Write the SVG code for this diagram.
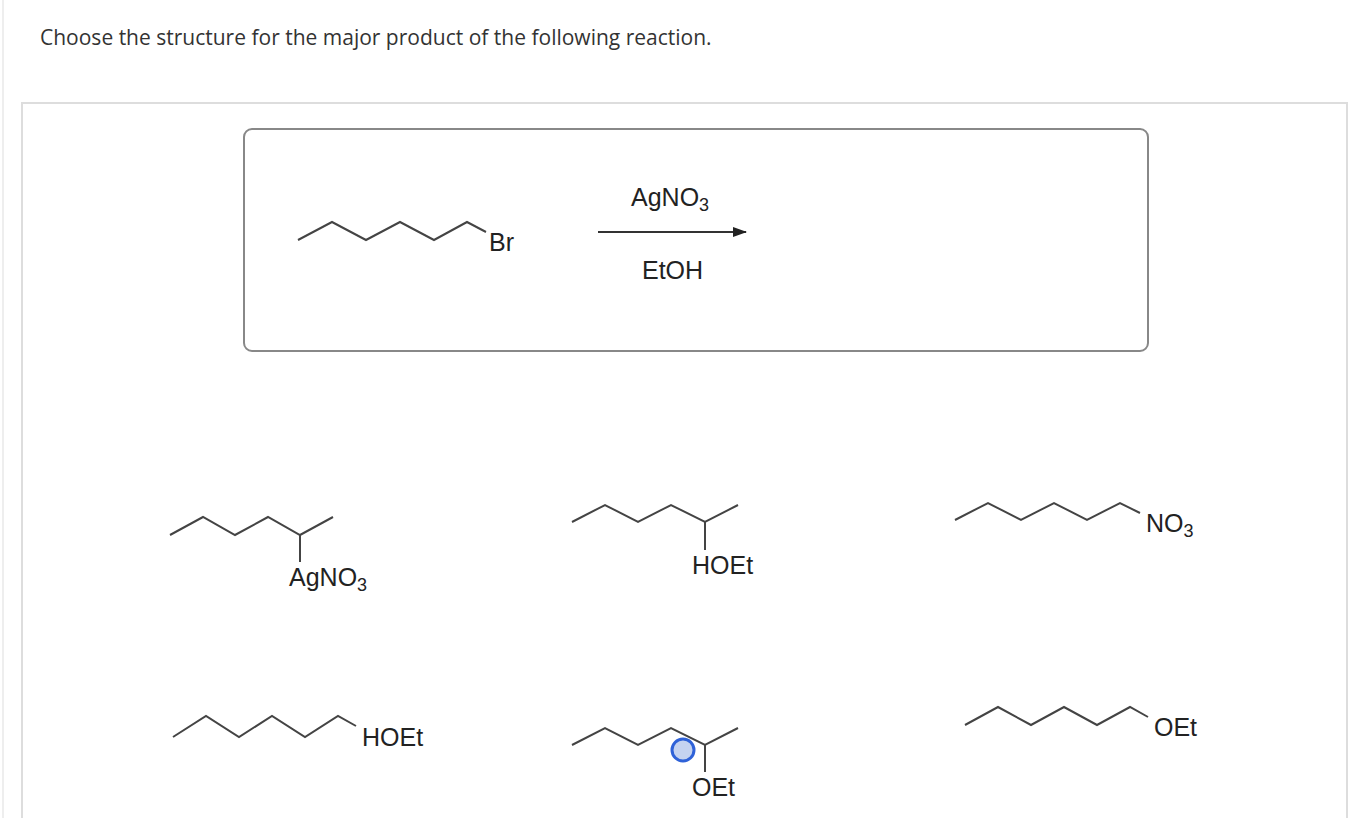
<svg xmlns="http://www.w3.org/2000/svg" width="1352" height="818" viewBox="0 0 1352 818">
<style>
.b{fill:none;stroke:#444;stroke-width:2;stroke-linejoin:miter}
.t{font-family:"Liberation Sans",Arial,sans-serif;font-size:25px;fill:#222}
.s{font-size:18px}
</style>
<defs><marker id="ah" markerWidth="14" markerHeight="10" refX="13" refY="5" orient="auto" markerUnits="userSpaceOnUse"><path d="M0,0L14,5L0,10z" fill="#222"/></marker></defs>
<rect width="1352" height="818" fill="#fff"/>
<line x1="3" y1="0" x2="3" y2="818" stroke="#eee" stroke-width="2"/>
<text x="40" y="45" font-family="'Open Sans',Lato,sans-serif" font-size="21" fill="#333">Choose the structure for the major product of the following reaction.</text>
<rect x="22" y="103" width="1325" height="720" fill="none" stroke="#ddd" stroke-width="2"/>
<g id="reaction">
<rect x="244" y="129" width="904" height="222" rx="8" fill="none" stroke="#888" stroke-width="2"/>
<polyline class="b" points="298,240 332,222 366,240 400,222 434,240 467,222 486,232"/>
<text class="t" x="489" y="251">Br</text>
<text class="t" x="631" y="206">AgNO<tspan class="s" dy="5">3</tspan></text>
<text class="t" x="642" y="279">EtOH</text>
</g>
<g id="connectors"><line x1="598" y1="232" x2="746" y2="232" stroke="#333" stroke-width="2" marker-end="url(#ah)"/></g>
<g id="optA"><polyline class="b" points="170,535 203,517 235,535 268,517 300,535 333,517"/><line class="b" x1="300" y1="535" x2="300" y2="562"/>
<text class="t" x="289" y="586">AgNO<tspan class="s" dy="5">3</tspan></text></g>
<g id="optB"><polyline class="b" points="572,522 605,505 638,522 671,505 705,522 738,505"/><line class="b" x1="705" y1="522" x2="705" y2="550"/>
<text class="t" x="692" y="574">HOEt</text></g>
<g id="optC"><polyline class="b" points="955,520 988,503 1021,520 1054,503 1087,520 1120,503 1140,513"/>
<text class="t" x="1146" y="532">NO<tspan class="s" dy="5">3</tspan></text></g>
<g id="optD"><polyline class="b" points="173,737 206,716 239,737 272,716 305,737 338,716 356,726"/>
<text class="t" x="362" y="746">HOEt</text></g>
<g id="optE"><polyline class="b" points="572,745 605,728 638,745 671,728 705,745 738,728"/><line class="b" x1="705" y1="745" x2="705" y2="772"/>
<circle cx="683" cy="750" r="11" fill="#c5d3f0" stroke="#2f62d8" stroke-width="3"/>
<text class="t" x="692" y="796">OEt</text></g>
<g id="optF"><polyline class="b" points="965,725 998,707 1031,725 1064,707 1097,725 1130,707 1148,717"/>
<text class="t" x="1154" y="736">OEt</text></g>
</svg>
